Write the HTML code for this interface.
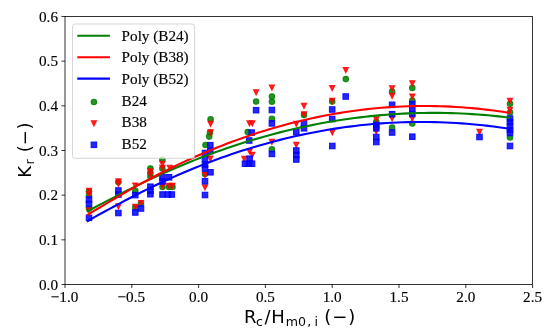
<!DOCTYPE html>
<html><head><meta charset="utf-8"><title>Kr vs Rc/Hm0,i</title>
<style>html,body{margin:0;padding:0;background:#fff;width:550px;height:336px;overflow:hidden}svg{display:block}</style>
</head><body>
<svg width="550" height="336" viewBox="0 0 550 336">
<defs><clipPath id="ax"><rect x="65" y="16.5" width="467.6" height="268"/></clipPath></defs>
<rect width="550" height="336" fill="#fff"/>
<g clip-path="url(#ax)">
<g fill="#008000" fill-opacity="0.85" stroke="#008000" stroke-opacity="0.85" stroke-width="1.1"><circle cx="89" cy="191.5" r="2.75"/><circle cx="89" cy="195.5" r="2.75"/><circle cx="89" cy="208.5" r="2.75"/><circle cx="118.4" cy="182" r="2.75"/><circle cx="135.3" cy="190.7" r="2.75"/><circle cx="135.3" cy="207.5" r="2.75"/><circle cx="141" cy="203.8" r="2.75"/><circle cx="150.4" cy="168.6" r="2.75"/><circle cx="150.4" cy="173" r="2.75"/><circle cx="150.4" cy="176.5" r="2.75"/><circle cx="162.4" cy="159.5" r="2.75"/><circle cx="162.4" cy="168.5" r="2.75"/><circle cx="162.5" cy="187" r="2.75"/><circle cx="169" cy="187" r="2.75"/><circle cx="172.5" cy="187" r="2.75"/><circle cx="210.6" cy="119.3" r="2.75"/><circle cx="210" cy="132.5" r="2.75"/><circle cx="209.2" cy="136.6" r="2.75"/><circle cx="205.5" cy="145" r="2.75"/><circle cx="205" cy="174" r="2.75"/><circle cx="256.1" cy="101.5" r="2.75"/><circle cx="247.7" cy="132.1" r="2.75"/><circle cx="271.9" cy="96.6" r="2.75"/><circle cx="271.9" cy="101.8" r="2.75"/><circle cx="271.9" cy="118.9" r="2.75"/><circle cx="271.9" cy="149.4" r="2.75"/><circle cx="304" cy="114.9" r="2.75"/><circle cx="332.2" cy="101.6" r="2.75"/><circle cx="345.8" cy="79.1" r="2.75"/><circle cx="376.3" cy="121.9" r="2.75"/><circle cx="392.1" cy="91.6" r="2.75"/><circle cx="392.1" cy="127.5" r="2.75"/><circle cx="412.3" cy="87.9" r="2.75"/><circle cx="412.3" cy="100.5" r="2.75"/><circle cx="412.3" cy="123.5" r="2.75"/><circle cx="510" cy="103.8" r="2.75"/><circle cx="510" cy="112.5" r="2.75"/><circle cx="510" cy="137.5" r="2.75"/></g>
<g fill="#ff0000" fill-opacity="0.85" stroke="#ff0000" stroke-opacity="0.85" stroke-width="1.1" stroke-linejoin="miter"><path d="M86.4 188.4H91.6L89 193.6Z"/><path d="M86.4 191.9H91.6L89 197.1Z"/><path d="M86.4 207.9H91.6L89 213.1Z"/><path d="M115.8 178.9H121L118.4 184.1Z"/><path d="M115.8 181.4H121L118.4 186.6Z"/><path d="M115.8 203.9H121L118.4 209.1Z"/><path d="M132.7 183.1H137.9L135.3 188.3Z"/><path d="M132.7 204.2H137.9L135.3 209.4Z"/><path d="M138.4 200.6H143.6L141 205.8Z"/><path d="M147.8 168.9H153L150.4 174.1Z"/><path d="M147.8 172.4H153L150.4 177.6Z"/><path d="M159.8 161.2H165L162.4 166.4Z"/><path d="M159.8 165.4H165L162.4 170.6Z"/><path d="M167.2 165.2H172.4L169.8 170.4Z"/><path d="M160 183.4H165.2L162.6 188.6Z"/><path d="M166.2 183.4H171.4L168.8 188.6Z"/><path d="M169.8 183.4H175L172.4 188.6Z"/><path d="M208 121.4H213.2L210.6 126.6Z"/><path d="M208 129.8H213.2L210.6 135Z"/><path d="M207.7 156.1H212.9L210.3 161.3Z"/><path d="M202.4 172.4H207.6L205 177.6Z"/><path d="M202.4 184.7H207.6L205 189.9Z"/><path d="M253.5 89.8H258.7L256.1 95Z"/><path d="M246.9 120.9H252.1L249.5 126.1Z"/><path d="M249.7 120.9H254.9L252.3 126.1Z"/><path d="M247 148.9H252.2L249.6 154.1Z"/><path d="M249.7 152.4H254.9L252.3 157.6Z"/><path d="M241.7 156.4H246.9L244.3 161.6Z"/><path d="M269.3 85H274.5L271.9 90.2Z"/><path d="M269.3 139.4H274.5L271.9 144.6Z"/><path d="M301.4 103.4H306.6L304 108.6Z"/><path d="M301.4 111.9H306.6L304 117.1Z"/><path d="M293.7 121.2H298.9L296.3 126.4Z"/><path d="M293.7 142.4H298.9L296.3 147.6Z"/><path d="M329.6 85.6H334.8L332.2 90.8Z"/><path d="M329.6 98.4H334.8L332.2 103.6Z"/><path d="M329.7 129.9H334.9L332.3 135.1Z"/><path d="M343.2 67.6H348.4L345.8 72.8Z"/><path d="M373.7 116.9H378.9L376.3 122.1Z"/><path d="M373.7 128.9H378.9L376.3 134.1Z"/><path d="M389.5 85.8H394.7L392.1 91Z"/><path d="M389.5 93.4H394.7L392.1 98.6Z"/><path d="M389.5 115.9H394.7L392.1 121.1Z"/><path d="M409.7 80.8H414.9L412.3 86Z"/><path d="M409.7 94.1H414.9L412.3 99.3Z"/><path d="M409.7 115.7H414.9L412.3 120.9Z"/><path d="M476.9 129.4H482.1L479.5 134.6Z"/><path d="M507.4 98.4H512.6L510 103.6Z"/><path d="M507.4 107.4H512.6L510 112.6Z"/></g>
<g fill="#0000ff" fill-opacity="0.85" stroke="#0000ff" stroke-opacity="0.85" stroke-width="1.1"><rect x="86.25" y="196.75" width="5.5" height="5.5"/><rect x="86.25" y="201.25" width="5.5" height="5.5"/><rect x="86.25" y="215.05" width="5.5" height="5.5"/><rect x="115.65" y="187.75" width="5.5" height="5.5"/><rect x="115.65" y="191.75" width="5.5" height="5.5"/><rect x="115.65" y="210.25" width="5.5" height="5.5"/><rect x="132.55" y="192.35" width="5.5" height="5.5"/><rect x="132.55" y="209.75" width="5.5" height="5.5"/><rect x="138.25" y="205.75" width="5.5" height="5.5"/><rect x="147.65" y="183.95" width="5.5" height="5.5"/><rect x="147.65" y="187.95" width="5.5" height="5.5"/><rect x="147.65" y="191.45" width="5.5" height="5.5"/><rect x="159.75" y="174.55" width="5.5" height="5.5"/><rect x="166.25" y="174.55" width="5.5" height="5.5"/><rect x="159.75" y="178.75" width="5.5" height="5.5"/><rect x="159.75" y="191.75" width="5.5" height="5.5"/><rect x="165.25" y="191.75" width="5.5" height="5.5"/><rect x="169.05" y="191.75" width="5.5" height="5.5"/><rect x="207.55" y="142.45" width="5.5" height="5.5"/><rect x="207.55" y="148.25" width="5.5" height="5.5"/><rect x="202.25" y="150.25" width="5.5" height="5.5"/><rect x="202.25" y="156.25" width="5.5" height="5.5"/><rect x="202.25" y="161.75" width="5.5" height="5.5"/><rect x="202.25" y="165.75" width="5.5" height="5.5"/><rect x="207.75" y="169.55" width="5.5" height="5.5"/><rect x="202.25" y="178.45" width="5.5" height="5.5"/><rect x="202.25" y="192.25" width="5.5" height="5.5"/><rect x="253.35" y="107.45" width="5.5" height="5.5"/><rect x="248.95" y="129.85" width="5.5" height="5.5"/><rect x="246.45" y="137.75" width="5.5" height="5.5"/><rect x="246.85" y="155.95" width="5.5" height="5.5"/><rect x="242.25" y="160.95" width="5.5" height="5.5"/><rect x="246.25" y="160.95" width="5.5" height="5.5"/><rect x="249.25" y="160.95" width="5.5" height="5.5"/><rect x="269.15" y="107.25" width="5.5" height="5.5"/><rect x="269.15" y="120.65" width="5.5" height="5.5"/><rect x="269.15" y="151.15" width="5.5" height="5.5"/><rect x="301.25" y="120.45" width="5.5" height="5.5"/><rect x="301.25" y="125.55" width="5.5" height="5.5"/><rect x="293.55" y="129.35" width="5.5" height="5.5"/><rect x="293.55" y="147.75" width="5.5" height="5.5"/><rect x="293.55" y="152.25" width="5.5" height="5.5"/><rect x="293.55" y="156.75" width="5.5" height="5.5"/><rect x="329.45" y="106.75" width="5.5" height="5.5"/><rect x="329.45" y="116.25" width="5.5" height="5.5"/><rect x="329.55" y="143.25" width="5.5" height="5.5"/><rect x="342.95" y="93.75" width="5.5" height="5.5"/><rect x="373.55" y="122.25" width="5.5" height="5.5"/><rect x="373.55" y="125.55" width="5.5" height="5.5"/><rect x="373.55" y="134.25" width="5.5" height="5.5"/><rect x="373.55" y="139.25" width="5.5" height="5.5"/><rect x="389.35" y="102.05" width="5.5" height="5.5"/><rect x="389.35" y="111.45" width="5.5" height="5.5"/><rect x="389.35" y="129.75" width="5.5" height="5.5"/><rect x="409.55" y="101.25" width="5.5" height="5.5"/><rect x="409.55" y="106.25" width="5.5" height="5.5"/><rect x="409.55" y="111.25" width="5.5" height="5.5"/><rect x="409.55" y="133.95" width="5.5" height="5.5"/><rect x="476.75" y="134.25" width="5.5" height="5.5"/><rect x="507.25" y="115.75" width="5.5" height="5.5"/><rect x="507.25" y="119.25" width="5.5" height="5.5"/><rect x="507.25" y="123.25" width="5.5" height="5.5"/><rect x="507.25" y="127.25" width="5.5" height="5.5"/><rect x="507.25" y="130.25" width="5.5" height="5.5"/><rect x="507.25" y="143.25" width="5.5" height="5.5"/></g>
<g fill="none" stroke-width="2.1" stroke-linecap="square" stroke-linejoin="round">
<path stroke="#008000" d="M87.8 211.24 L93.14 208.24 L98.48 205.39 L103.81 202.59 L109.15 199.83 L114.49 197.06 L119.83 194.27 L125.17 191.53 L130.5 188.83 L135.84 186.18 L141.18 183.57 L146.52 181.01 L151.86 178.5 L157.19 176.04 L162.53 173.62 L167.87 171.25 L173.21 168.93 L178.55 166.66 L183.88 164.43 L189.22 162.25 L194.56 160.12 L199.9 158.03 L205.24 155.99 L210.57 154 L215.91 152.05 L221.25 150.16 L226.59 148.3 L231.93 146.5 L237.26 144.74 L242.6 143.03 L247.94 141.37 L253.28 139.76 L258.62 138.19 L263.95 136.67 L269.29 135.19 L274.63 133.77 L279.97 132.39 L285.31 131.05 L290.64 129.77 L295.98 128.53 L301.32 127.34 L306.66 126.2 L311.99 125.1 L317.33 124.05 L322.67 123.05 L328.01 122.09 L333.35 121.18 L338.68 120.32 L344.02 119.51 L349.36 118.74 L354.7 118.02 L360.04 117.34 L365.37 116.72 L370.71 116.14 L376.05 115.61 L381.39 115.12 L386.73 114.69 L392.06 114.3 L397.4 113.95 L402.74 113.66 L408.08 113.41 L413.42 113.21 L418.75 113.05 L424.09 112.94 L429.43 112.88 L434.77 112.87 L440.11 112.9 L445.44 112.98 L450.78 113.11 L456.12 113.29 L461.46 113.51 L466.8 113.78 L472.13 114.09 L477.47 114.46 L482.81 114.87 L488.15 115.32 L493.49 115.83 L498.82 116.38 L504.16 116.98 L509.5 117.63"/>
<path stroke="#ff0000" d="M87.8 214.89 L93.14 211.48 L98.48 208.23 L103.81 205.04 L109.15 201.9 L114.49 198.75 L119.83 195.58 L125.17 192.47 L130.5 189.42 L135.84 186.42 L141.18 183.48 L146.52 180.59 L151.86 177.75 L157.19 174.97 L162.53 172.25 L167.87 169.58 L173.21 166.96 L178.55 164.4 L183.88 161.9 L189.22 159.45 L194.56 157.05 L199.9 154.71 L205.24 152.43 L210.57 150.2 L215.91 148.02 L221.25 145.9 L226.59 143.83 L231.93 141.82 L237.26 139.87 L242.6 137.97 L247.94 136.12 L253.28 134.33 L258.62 132.59 L263.95 130.91 L269.29 129.28 L274.63 127.71 L279.97 126.19 L285.31 124.73 L290.64 123.32 L295.98 121.97 L301.32 120.68 L306.66 119.43 L311.99 118.25 L317.33 117.11 L322.67 116.03 L328.01 115.01 L333.35 114.04 L338.68 113.13 L344.02 112.27 L349.36 111.47 L354.7 110.72 L360.04 110.03 L365.37 109.39 L370.71 108.8 L376.05 108.28 L381.39 107.8 L386.73 107.38 L392.06 107.02 L397.4 106.71 L402.74 106.46 L408.08 106.26 L413.42 106.11 L418.75 106.02 L424.09 105.99 L429.43 106.01 L434.77 106.08 L440.11 106.21 L445.44 106.4 L450.78 106.64 L456.12 106.93 L461.46 107.28 L466.8 107.69 L472.13 108.14 L477.47 108.66 L482.81 109.23 L488.15 109.85 L493.49 110.53 L498.82 111.26 L504.16 112.05 L509.5 112.9"/>
<path stroke="#0000ff" d="M87.8 221.06 L93.14 217.92 L98.48 214.95 L103.81 212.02 L109.15 209.15 L114.49 206.27 L119.83 203.36 L125.17 200.51 L130.5 197.7 L135.84 194.95 L141.18 192.25 L146.52 189.6 L151.86 187 L157.19 184.45 L162.53 181.95 L167.87 179.5 L173.21 177.11 L178.55 174.76 L183.88 172.47 L189.22 170.23 L194.56 168.03 L199.9 165.89 L205.24 163.8 L210.57 161.76 L215.91 159.77 L221.25 157.84 L226.59 155.95 L231.93 154.11 L237.26 152.33 L242.6 150.59 L247.94 148.91 L253.28 147.28 L258.62 145.7 L263.95 144.17 L269.29 142.69 L274.63 141.26 L279.97 139.88 L285.31 138.55 L290.64 137.28 L295.98 136.05 L301.32 134.88 L306.66 133.76 L311.99 132.68 L317.33 131.66 L322.67 130.69 L328.01 129.77 L333.35 128.9 L338.68 128.09 L344.02 127.32 L349.36 126.6 L354.7 125.94 L360.04 125.33 L365.37 124.76 L370.71 124.25 L376.05 123.79 L381.39 123.38 L386.73 123.02 L392.06 122.71 L397.4 122.45 L402.74 122.25 L408.08 122.09 L413.42 121.99 L418.75 121.93 L424.09 121.93 L429.43 121.98 L434.77 122.08 L440.11 122.23 L445.44 122.43 L450.78 122.68 L456.12 122.98 L461.46 123.34 L466.8 123.74 L472.13 124.2 L477.47 124.7 L482.81 125.26 L488.15 125.87 L493.49 126.53 L498.82 127.24 L504.16 128 L509.5 128.81"/>
</g></g>
<rect x="65" y="16.5" width="467.6" height="268" fill="none" stroke="#000" stroke-width="0.8"/>
<path d="M65 284.5V288 M131.8 284.5V288 M198.6 284.5V288 M265.4 284.5V288 M332.2 284.5V288 M399 284.5V288 M465.8 284.5V288 M532.6 284.5V288 M65 284.5H61.5 M65 239.83H61.5 M65 195.17H61.5 M65 150.5H61.5 M65 105.83H61.5 M65 61.17H61.5 M65 16.5H61.5" stroke="#000" stroke-width="0.8"/>
<g font-family="Liberation Serif, Times New Roman, serif" font-size="15.2" fill="#000" stroke="#000" stroke-width="0.15"><text x="64.5" y="301.5" text-anchor="middle">−1.0</text><text x="131.3" y="301.5" text-anchor="middle">−0.5</text><text x="198.6" y="301.5" text-anchor="middle">0.0</text><text x="265.4" y="301.5" text-anchor="middle">0.5</text><text x="332.2" y="301.5" text-anchor="middle">1.0</text><text x="399" y="301.5" text-anchor="middle">1.5</text><text x="465.8" y="301.5" text-anchor="middle">2.0</text><text x="532.6" y="301.5" text-anchor="middle">2.5</text><text x="58.0" y="289.7" text-anchor="end">0.0</text><text x="58.0" y="245.03" text-anchor="end">0.1</text><text x="58.0" y="200.37" text-anchor="end">0.2</text><text x="58.0" y="155.7" text-anchor="end">0.3</text><text x="58.0" y="111.03" text-anchor="end">0.4</text><text x="58.0" y="66.37" text-anchor="end">0.5</text><text x="58.0" y="21.7" text-anchor="end">0.6</text></g>
<g font-family="DejaVu Sans, sans-serif" fill="#000"><text x="244.04" y="323.2" font-size="18">R</text><text x="256.1" y="326.3" font-size="12.6">c</text><text x="264.6" y="323.2" font-size="18">/</text><text x="271.34" y="323.2" font-size="18">H</text><text x="285.85" y="326.3" font-size="12.6">m0</text><text x="307.2" y="326.3" font-size="12.6">,</text><text x="314.5" y="326.3" font-size="12.6">i</text><text x="324.35" y="323.2" font-size="18">(</text><text x="332.2" y="323.2" font-size="18">−</text><text x="348.26" y="323.2" font-size="18">)</text></g>
<g font-family="DejaVu Sans, sans-serif" fill="#000" transform="translate(30.6 176) rotate(-90)"><text x="-1.66" y="0" font-size="18">K</text><text x="11.55" y="3.1" font-size="12.6">r</text><text x="23.85" y="0" font-size="18">(</text><text x="30.7" y="0" font-size="18">−</text><text x="46.56" y="0" font-size="18">)</text></g>
<rect x="72.5" y="24" width="122.1" height="134.3" rx="2.5" fill="#fff" fill-opacity="0.8" stroke="#cccccc" stroke-opacity="0.8" stroke-width="1"/>
<path d="M78.3 35.8H108.9" stroke="#008000" stroke-width="2.1" stroke-linecap="square"/>
<path d="M78.3 57.25H108.9" stroke="#ff0000" stroke-width="2.1" stroke-linecap="square"/>
<path d="M78.3 78.6H108.9" stroke="#0000ff" stroke-width="2.1" stroke-linecap="square"/>
<g fill="#008000" fill-opacity="0.85" stroke="#008000" stroke-opacity="0.85" stroke-width="1.1"><circle cx="93.9" cy="102" r="2.75"/></g>
<g fill="#ff0000" fill-opacity="0.85" stroke="#ff0000" stroke-opacity="0.85" stroke-width="1.1"><path d="M91.3 120.8H96.5L93.9 126Z"/></g>
<g fill="#0000ff" fill-opacity="0.85" stroke="#0000ff" stroke-opacity="0.85" stroke-width="1.1"><rect x="91.15" y="142.05" width="5.5" height="5.5"/></g>
<g font-family="Liberation Serif, Times New Roman, serif" font-size="15.2" fill="#000" stroke="#000" stroke-width="0.15"><text x="121.6" y="40.9">Poly (B24)</text><text x="121.6" y="62.35">Poly (B38)</text><text x="121.6" y="83.7">Poly (B52)</text><text x="121.6" y="106">B24</text><text x="121.6" y="127.4">B38</text><text x="121.6" y="148.8">B52</text></g>
</svg>
</body></html>
